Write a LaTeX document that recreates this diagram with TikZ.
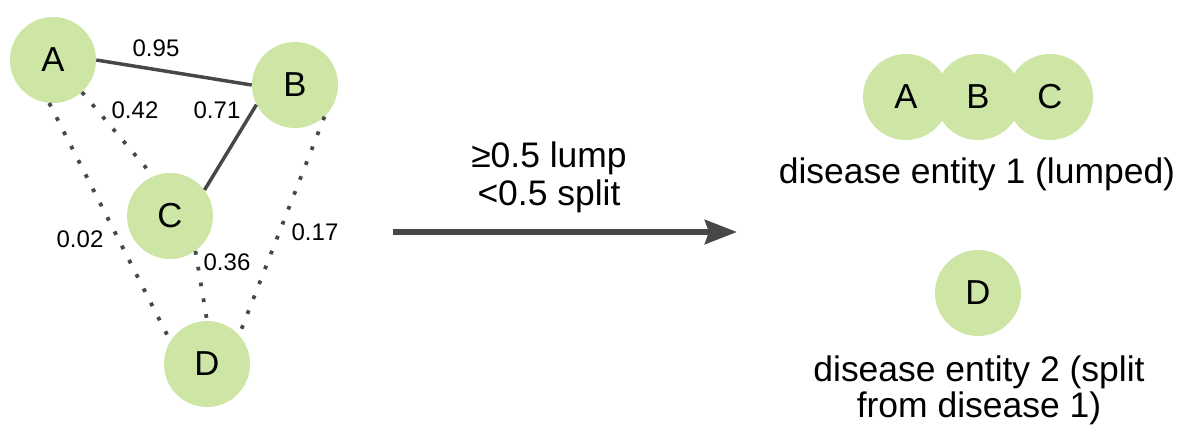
\documentclass[tikz,border=0pt]{standalone}
\usepackage{fontspec}
\setmainfont{Liberation Sans}
\usetikzlibrary{arrows.meta}
\definecolor{leaf}{HTML}{CDE5A5}
\definecolor{ink}{HTML}{474747}

\begin{document}
\begin{tikzpicture}[
    x=0.75pt, y=-0.75pt,
    symptom/.style={circle, fill=leaf, inner sep=0pt, minimum size=64.5pt,
    font=\fontsize{26}{30}\selectfont},
    strong link/.style={ink, line width=2.6pt},
    weak link/.style={ink, line width=2.8pt, dash pattern=on 2.8pt off 9.2pt},
    weight/.style={inner sep=0pt, font=\fontsize{18}{20}\selectfont},
    caption/.style={inner sep=0pt, align=center, font=\fontsize{26.6}{26.5}\selectfont},
    pile/.style={ink, line width=4.5pt, -{Stealth[length=24pt, width=18pt, inset=3pt]}},
    every node/.style={color=black}
    ]
    \useasboundingbox (0,0) rectangle (1186,446);
    % Symptoms
    \node[symptom] (A) at (53,60) {A};
    \node[symptom] (B) at (295,85) {B};
    \node[symptom] (C) at (170,216) {C};
    \node[symptom] (D) at (207,364) {D};
    % Links
    \draw[strong link] (A.0) -- (B.180);
    \draw[strong link] (B.207) -- (C.37);
    \draw[weak link] (A.312) -- (C.113);
    \draw[weak link] (A.265) -- (D.148);
    \draw[weak link] (C.306) -- (D.90);
    \draw[weak link] (B.313) -- (D.42);
    % Weights
    \node[weight] (wAB) at (156,48) {0.95};
    \node[weight] (wAC) at (135,110) {0.42};
    \node[weight] (wBC) at (217,110) {0.71};
    \node[weight] (wAD) at (80,239) {0.02};
    \node[weight] (wBD) at (315,232) {0.17};
    \node[weight] (wCD) at (227,262) {0.36};
    % Rule
    \coordinate (from) at (393,232);
    \coordinate (to) at (737,232);
    \draw[pile] (from) -- (to);
    \node[caption, anchor=base, font=\fontsize{26.6}{28.5}\selectfont] (rule) at (549,205)
        {≥0.5 lump\\<0.5 split};
    % Entities
    \node[symptom] (lumpA) at (906,97) {A};
    \node[symptom] (lumpB) at (978,97) {B};
    \node[symptom] (lumpC) at (1050,97) {C};
    \node[caption, anchor=base] (lumped) at (977,183) {disease entity 1 (lumped)};
    \node[symptom] (splitD) at (978,293) {D};
    \node[caption, anchor=base] (split) at (979,417)
        {disease entity 2 (split\\from disease 1)};
\end{tikzpicture}
\end{document}
